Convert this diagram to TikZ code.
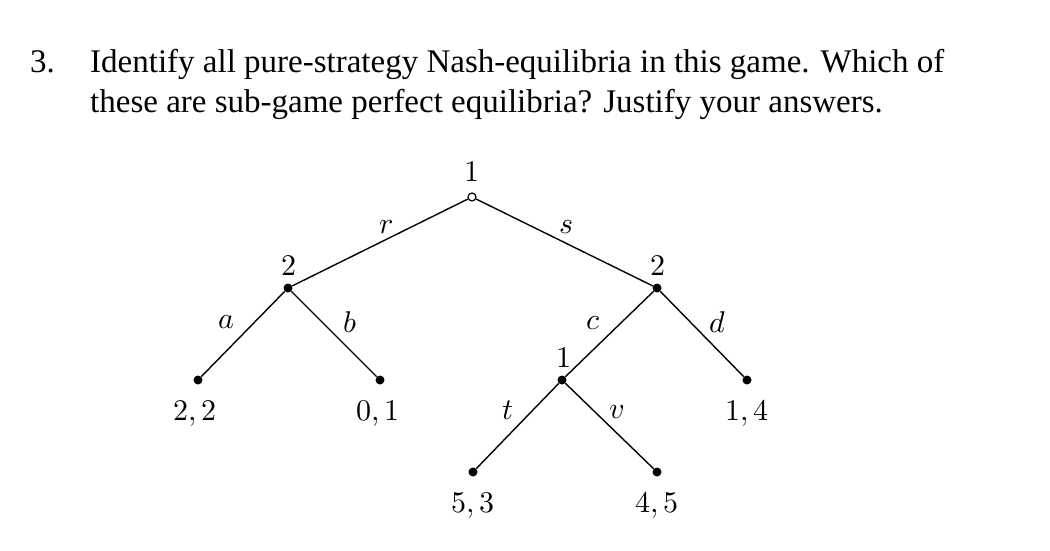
\documentclass[tikz,border=0pt]{standalone}
\usepackage{fontspec}
\setmainfont{Liberation Serif}
\usepackage{unicode-math}
\begin{document}
\begin{tikzpicture}[x=1pt,y=-1pt,
  dot/.style={circle,fill=black,inner sep=0pt,minimum size=9pt},
  odot/.style={circle,draw=black,fill=white,line width=1.2pt,inner sep=0pt,minimum size=8pt},
  lab/.style={font=\fontsize{30}{34}\selectfont,inner sep=0pt},
  edge/.style={line width=1.4pt}]
\useasboundingbox (0,0) rectangle (1050,550);
\node[anchor=base west,font=\fontsize{33}{40}\selectfont,inner sep=0pt] (t1) at (30,72) {3.};
\node[anchor=base west,font=\fontsize{33}{40}\selectfont,inner sep=0pt] (t2) at (90,72) {Identify all pure-strategy Nash-equilibria in this game. Which of};
\node[anchor=base west,font=\fontsize{33}{40}\selectfont,inner sep=0pt] (t3) at (90,112) {these are sub-game perfect equilibria? Justify your answers.};
\node[odot] (r) at (472,197) {};
\node[dot] (L) at (288,288) {};
\node[dot] (R) at (657,288) {};
\node[dot] (la) at (198,380) {};
\node[dot] (lb) at (380,380) {};
\node[dot] (M) at (562,380) {};
\node[dot] (rd) at (747,380) {};
\node[dot] (mt) at (473,472) {};
\node[dot] (mv) at (657,472) {};
\draw[edge] (r) -- (L); \draw[edge] (r) -- (R);
\draw[edge] (L) -- (la); \draw[edge] (L) -- (lb);
\draw[edge] (R) -- (M); \draw[edge] (R) -- (rd);
\draw[edge] (M) -- (mt); \draw[edge] (M) -- (mv);
\node[lab] (n1) at (472,172) {$1$};
\node[lab] (n2) at (289,266) {$2$};
\node[lab] (n3) at (658,266) {$2$};
\node[lab] (n4) at (564,358) {$1$};
\node[lab] (er) at (386,227) {$r$};
\node[lab] (es) at (567,227) {$s$};
\node[lab] (ea) at (226,322) {$a$};
\node[lab] (eb) at (350,322) {$b$};
\node[lab] (ec) at (593,323) {$c$};
\node[lab] (ed) at (718,322) {$d$};
\node[lab] (et) at (508,410) {$t$};
\node[lab] (ev) at (617,412) {$v$};
\node[lab] (p1) at (195,413) {$2,2$};
\node[lab] (p2) at (378,413) {$0,1$};
\node[lab] (p3) at (747,413) {$1,4$};
\node[lab] (p4) at (473,505) {$5,3$};
\node[lab] (p5) at (657,505) {$4,5$};
\end{tikzpicture}
\end{document}
